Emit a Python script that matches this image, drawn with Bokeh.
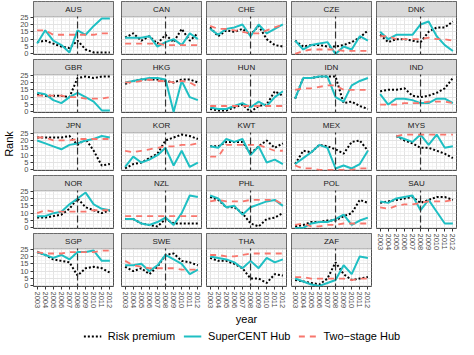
import math
from bokeh.plotting import figure
from bokeh.layouts import row, column
from bokeh.models import (Range1d, FixedTicker, LinearAxis, Span, Legend, LegendItem,
                          ColumnDataSource, Label, BoxAnnotation)
from bokeh.embed import file_html
from bokeh.resources import INLINE

nan = float("nan")

years = [2003, 2004, 2005, 2006, 2007, 2008, 2009, 2010, 2011, 2012]
break_year = 2008
y_ticks = [0, 5, 10, 15, 20, 25]

countries = ["AUS", "CAN", "CHE", "CZE", "DNK",
             "GBR", "HKG", "HUN", "IDN", "IND",
             "JPN", "KOR", "KWT", "MEX", "MYS",
             "NOR", "NZL", "PHL", "POL", "SAU",
             "SGP", "SWE", "THA", "ZAF"]

risk_premium = {
    "AUS": [8, 9, 7, 5, 4, 9, 3, 1, 1, 1],
    "CAN": [11, 14, 9, 12, 7, 13, 8, 17, 9, 14],
    "CHE": [18, 12, 16, 15, 17, 13, 19, 10, 6, 5],
    "CZE": [9, 5, 6, 6, 5, 5, 6, 8, 11, 16],
    "DNK": [13, 8, 10, 10, 9, 8, 15, 18, 18, 22],
    "GBR": [12, 11, 11, 11, 10, 23, 24, 23, 24, 24],
    "HKG": [19, 21, 22, 22, 22, 21, 20, 22, 22, 20],
    "HUN": [2, 1, 1, 3, 5, 0, 4, 5, 14, 11],
    "IDN": [9, 23, 23, 24, 24, 24, 6, 7, 4, 2],
    "IND": [14, 15, 15, 16, 11, 10, 11, 13, 16, 23],
    "JPN": [22, 22, 22, 22, 23, 17, 21, 13, 3, 4],
    "KOR": [1, 4, 5, 8, 11, 20, 22, 24, 23, 21],
    "KWT": [16, 16, 19, 19, 19, 11, 16, 20, 15, 18],
    "MEX": [4, 13, 12, 17, 16, 14, 11, 19, 20, 13],
    "MYS": [nan, nan, 23, 20, 18, 15, 15, 13, 11, 8],
    "NOR": [7, 7, 8, 9, 13, 20, 14, 12, 10, 12],
    "NZL": [6, 6, 3, 2, 1, 6, 3, 3, 3, 3],
    "PHL": [21, 19, 14, 14, 10, 3, 1, 6, 7, 10],
    "POL": [1, 2, 4, 4, 5, 5, 8, 10, 19, 17],
    "SAU": [17, 18, 19, 20, 21, 17, 19, 21, 21, 19],
    "SGP": [23, 21, 18, 17, 16, 7, 12, 13, 12, 9],
    "SWE": [13, 10, 12, 8, 13, 21, 22, 17, 16, 14],
    "THA": [19, 17, 17, 15, 12, 5, 5, 2, 8, 7],
    "ZAF": [4, 3, 2, 1, 5, 16, 8, 4, 5, 6],
}

supercent_hub = {
    "AUS": [7, 16, 9, 6, 1, 16, 13, 19, 24, 24],
    "CAN": [11, 11, 11, 12, 5, 8, 10, 6, 14, 10],
    "CHE": [17, 13, 17, 18, 20, 12, 20, 14, 17, 20],
    "CZE": [9, 3, 6, 7, 8, 0, 5, 3, 12, 9],
    "DNK": [15, 10, 13, 13, 13, 20, 22, 12, 6, 2],
    "GBR": [13, 12, 8, 6, 10, 13, 10, 7, 1, 1],
    "HKG": [20, 21, 22, 23, 23, 22, 0, 21, 10, 8],
    "HUN": [3, 2, 2, 4, 6, 3, 7, 4, 10, 14],
    "IDN": [9, 23, 23, 24, 24, 10, 7, 18, 21, 23],
    "IND": [12, 5, 9, 9, 8, 6, 6, 9, 9, 6],
    "JPN": [20, 18, 16, 14, 17, 18, 20, 21, 23, 22],
    "KOR": [2, 9, 5, 7, 10, 15, 3, 13, 2, 5],
    "KWT": [16, 15, 21, 19, 21, 10, 16, 5, 7, 4],
    "MEX": [4, 8, 12, 17, 15, 1, 3, 1, 4, 13],
    "MYS": [nan, nan, 23, 21, 19, 24, 17, 24, 15, 16],
    "NOR": [8, 8, 10, 11, 16, 20, 24, 16, 13, 12],
    "NZL": [6, 6, 3, 2, 4, 7, 2, 10, 22, 21],
    "PHL": [22, 20, 14, 15, 9, 14, 16, 18, 19, 15],
    "POL": [0, 0, 3, 4, 4, 6, 9, 2, 5, 7],
    "SAU": [18, 17, 20, 21, 22, 12, 19, 11, 3, 3],
    "SGP": [23, 21, 19, 21, 18, 23, 23, 24, 17, 17],
    "SWE": [14, 14, 15, 10, 14, 21, 18, 15, 8, 11],
    "THA": [20, 19, 18, 16, 12, 17, 12, 19, 16, 18],
    "ZAF": [5, 3, 1, 0, 2, 4, 14, 8, 20, 19],
}

two_stage_hub = {
    "AUS": [16, 16, 13, 13, 13, 13, 13, 13, 14, 14],
    "CAN": [7, 7, 7, 7, 7, 6, 6, 6, 6, 6],
    "CHE": [19, 17, 17, 16, 15, 14, 14, 16, 18, 20],
    "CZE": [0, 2, 3, 3, 3, 3, 2, 2, 2, 2],
    "DNK": [12, 12, 10, 10, 10, 10, 11, 10, 10, 9],
    "GBR": [11, 11, 11, 11, 10, 10, 9, 9, 9, 10],
    "HKG": [20, 20, 21, 22, 21, 21, 20, 21, 20, 17],
    "HUN": [4, 4, 4, 4, 4, 4, 4, 4, 4, 4],
    "IDN": [15, 16, 16, 17, 18, 18, 15, 15, 15, 15],
    "IND": [5, 5, 5, 6, 6, 6, 7, 7, 7, 6],
    "JPN": [22, 22, 20, 20, 20, 21, 21, 21, 21, 21],
    "KOR": [13, 12, 13, 14, 15, 16, 16, 17, 17, 18],
    "KWT": [9, 9, 17, 17, 17, 17, 17, 15, 13, 13],
    "MEX": [3, 1, 1, 0, 0, 0, 0, 0, 1, 1],
    "MYS": [nan, nan, 23, 24, 24, 24, 24, 24, 24, 24],
    "NOR": [10, 12, 11, 11, 11, 11, 11, 12, 12, 12],
    "NZL": [8, 8, 8, 8, 8, 8, 8, 8, 8, 8],
    "PHL": [18, 19, 18, 18, 18, 19, 19, 19, 19, 16],
    "POL": [2, 3, 1, 1, 2, 2, 3, 3, 3, 3],
    "SAU": [14, 13, 15, 16, 16, 17, 18, 18, 18, 19],
    "SGP": [23, 22, 22, 22, 23, 23, 23, 23, 24, 24],
    "SWE": [17, 14, 13, 12, 12, 12, 12, 11, 11, 11],
    "THA": [21, 21, 20, 20, 21, 22, 22, 22, 22, 22],
    "ZAF": [6, 6, 5, 5, 5, 5, 5, 4, 5, 5],
}

series_labels = ["Risk premium", "SuperCENT Hub", "Two\u2212stage Hub"]

FONT = "Liberation Sans"
TEAL = "#1fbfc3"
RED = "#F8766D"
BORDER = "#4d4d4d"
FW, FH, SH = 80, 38, 15
NCOL = 5
X0, X1 = 2002.55, 2012.45
Y0, Y1 = -0.4, 25.4
STRIP_UNITS = SH * (Y1 - Y0) / FH

x_minor = [y + 0.5 for y in years[:-1]]
y_minor = [t + 2.5 for t in y_ticks[:-1]]

cols = [[] for _ in range(NCOL)]
for i, c in enumerate(countries):
    r, k = divmod(i, NCOL)
    left = 28 if k == 0 else 2
    right = 6 if k == 0 else 3
    last_in_col = i + NCOL >= len(countries)

    p = figure(title=None, frame_width=FW, frame_height=FH + SH,
               x_range=Range1d(X0, X1), y_range=Range1d(Y0, Y1 + STRIP_UNITS),
               x_axis_location=None, y_axis_location=None,
               toolbar_location=None, output_backend="svg",
               min_border_left=left, min_border_right=right,
               min_border_top=1 if r == 0 else 0,
               min_border_bottom=0 if last_in_col else 5,
               outline_line_color=BORDER, border_fill_color="white")
    p.xgrid.ticker = FixedTicker(ticks=years, minor_ticks=x_minor)
    p.ygrid.ticker = FixedTicker(ticks=y_ticks, minor_ticks=y_minor)
    for g in (p.xgrid, p.ygrid):
        g.grid_line_color = "#e3e3e3"
        g.grid_line_width = 1
        g.minor_grid_line_color = "#efefef"
        g.minor_grid_line_width = 0.6

    src = ColumnDataSource(dict(year=years, rp=risk_premium[c],
                                sc=supercent_hub[c], ts=two_stage_hub[c]))
    p.add_layout(Span(location=break_year, dimension="height", line_color="#333333",
                      line_dash="7 3", line_width=1.2))
    p.line("year", "rp", source=src, line_color="black", line_width=2, line_dash="2 2")
    p.line("year", "sc", source=src, line_color=TEAL, line_width=2)
    p.line("year", "ts", source=src, line_color=RED, line_width=1.8, line_dash="6 5")

    # facet strip
    p.add_layout(BoxAnnotation(bottom=Y1, fill_color="#d9d9d9", fill_alpha=1,
                               line_color=BORDER, line_width=1))
    p.add_layout(Label(x=(X0 + X1) / 2, y=Y1 + STRIP_UNITS * 0.45, text=c,
                       text_align="center", text_baseline="middle",
                       text_font=FONT, text_font_size="8px", text_color="#1a1a1a"))

    axis_style = dict(axis_line_color=None, major_tick_line_color="#333333",
                      major_tick_out=3, major_tick_in=0, minor_tick_line_color=None,
                      major_label_text_font=FONT, major_label_text_font_size="7.5px",
                      major_label_text_color="#4d4d4d", major_label_standoff=2,
                      axis_label_text_font=FONT, axis_label_text_font_size="11px",
                      axis_label_text_font_style="normal", axis_label_text_color="black",
                      axis_label_standoff=2)
    if k == 0:
        ya = LinearAxis(ticker=FixedTicker(ticks=y_ticks), **axis_style)
        if c == "JPN":
            ya.axis_label = "Rank"
        p.add_layout(ya, "left")
    if last_in_col:
        xa = LinearAxis(ticker=FixedTicker(ticks=years), major_label_orientation=-math.pi / 2,
                        **axis_style)
        if c == "THA":
            xa.axis_label = "year"
        p.add_layout(xa, "below")
    cols[k].append(p)

panels = row([column(cf, spacing=0) for cf in cols], spacing=0)

# legend (proxy renderers drawn outside the visible range)
lf = figure(title=None, width=454, height=16, x_range=Range1d(0, 1), y_range=Range1d(0, 1),
            x_axis_location=None, y_axis_location=None, toolbar_location=None,
            output_backend="svg", min_border_left=30, min_border_right=1,
            min_border_top=0, min_border_bottom=0, outline_line_color=None)
lf.grid.visible = False
r1 = lf.line(x=years, y=risk_premium["AUS"], line_color="black", line_width=2, line_dash="2 2")
r2 = lf.line(x=years, y=supercent_hub["AUS"], line_color=TEAL, line_width=2)
r3 = lf.line(x=years, y=two_stage_hub["AUS"], line_color=RED, line_width=1.8, line_dash="6 5")
leg = Legend(items=[LegendItem(label=series_labels[0], renderers=[r1]),
                    LegendItem(label=series_labels[1], renderers=[r2]),
                    LegendItem(label=series_labels[2], renderers=[r3])],
             orientation="horizontal", location="center", border_line_color=None,
             background_fill_alpha=0, padding=0, margin=0, spacing=8, label_standoff=7,
             glyph_width=18, glyph_height=12, label_height=12,
             label_text_font=FONT, label_text_font_size="11px", label_text_color="black")
lf.add_layout(leg)

layout = column(panels, lf, spacing=0)

open("out.html", "w").write(file_html(layout, INLINE))
